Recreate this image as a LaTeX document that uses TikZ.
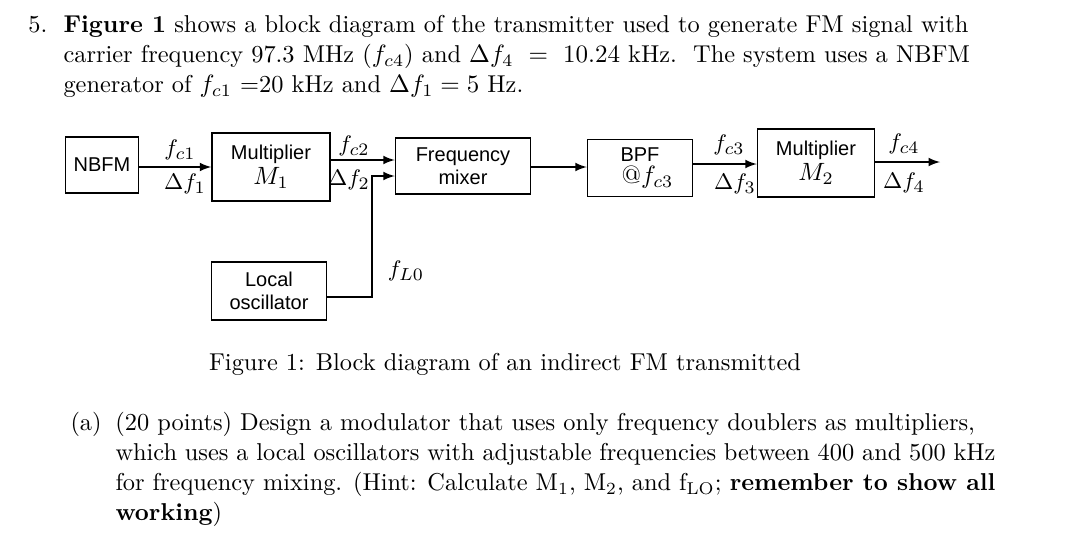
\documentclass[tikz,border=0pt]{standalone}
\usepackage{fontspec}
\newfontfamily\diagsans{Liberation Sans}
\usetikzlibrary{arrows, positioning}
\begin{document}
\begin{tikzpicture}[
    x=0.4pt, y=-0.4pt,
    block/.style={rectangle, draw, line width=0.6pt, inner sep=0pt, font=\diagsans\fontsize{8}{9}\selectfont, align=center},
    lbl/.style={inner sep=0pt, font=\fontsize{9.5}{10}\selectfont},
    arrow/.style={->, >=latex, line width=0.6pt},
    para/.style={anchor=north west, inner sep=0pt, align=justify, font=\fontsize{9.75}{12}\selectfont}
]
    \useasboundingbox[fill=white] (0,0) rectangle (1086,554);

    % Question text
    \node[para, text width=386pt] (q) at (28,15) {\hbox to 14pt{5.\hfil}\textbf{Figure 1} shows a block diagram of the transmitter used to generate FM signal with\\
    \hspace*{14pt}carrier frequency 97.3 MHz ($f_{c4}$) and $\Delta f_4\ =\ 10.24$ kHz.\ \ The system uses a NBFM\\
    \hspace*{14pt}generator of $f_{c1}$ =20 kHz and $\Delta f_1 = 5$ Hz.\hfill\mbox{}};

    % Blocks
    \node[block, minimum width=73*0.4pt, minimum height=56*0.4pt] (nbfm) at (102,165) {NBFM};
    \node[block, minimum width=118*0.4pt, minimum height=68*0.4pt] (mult1) at (271,167) {Multiplier\\[1pt] {\rmfamily\fontsize{10}{10}\selectfont$M_1$}};
    \node[block, minimum width=135*0.4pt, minimum height=56*0.4pt] (mixer) at (463,166) {Frequency\\ mixer};
    \node[block, minimum width=105*0.4pt, minimum height=57*0.4pt] (bpf) at (640,168) {BPF\\ \hspace*{6pt}{\rmfamily\fontsize{10}{10}\selectfont$@f_{c3}$}};
    \node[block, minimum width=117*0.4pt, minimum height=68*0.4pt] (mult2) at (816,163) {Multiplier\\[1pt] {\rmfamily\fontsize{10}{10}\selectfont$M_2$}};
    \node[block, minimum width=115*0.4pt, minimum height=58*0.4pt] (lo) at (269,291) {Local\\ oscillator};
    \coordinate (out) at (940,162);
    \coordinate (bend) at (372,297);

    % Connectors
    \draw[arrow] (nbfm.east |- 0,167) -- (mult1.west |- 0,167);
    \draw[arrow] (mult1.east |- 0,160) -- (mixer.west |- 0,160);
    \draw[arrow] (lo.east |- bend) -- (bend) -- (bend |- 0,176) -- (mixer.west |- 0,176);
    \draw[arrow] (mixer.east |- 0,167) -- (bpf.west |- 0,167);
    \draw[arrow] (bpf.east |- 0,164) -- (mult2.west |- 0,164);
    \draw[arrow] (mult2.east |- 0,162) -- (out);

    % Labels
    \node[lbl] (fc1) at (180,150) {$f_{c1}$};
    \node[lbl] (df1) at (185,184) {$\Delta f_1$};
    \node[lbl] (fc2) at (354,146) {$f_{c2}$};
    \node[lbl] (df2) at (349,180) {$\Delta f_2$};
    \node[lbl] (flo) at (406,271) {$f_{L0}$};
    \node[lbl] (fc3) at (729,145) {$f_{c3}$};
    \node[lbl] (df3) at (735,184) {$\Delta f_3$};
    \node[lbl] (fc4) at (904,144) {$f_{c4}$};
    \node[lbl] (df4) at (904,183) {$\Delta f_4$};

    % Caption
    \node[inner sep=0pt, font=\fontsize{9.75}{12}\selectfont] (cap) at (505,364) {Figure 1: Block diagram of an indirect FM transmitted};

    % Part (a)
    \node[para, text width=370pt] (pa) at (70,412) {\hbox to 18pt{(a)\hfil}(20 points) Design a modulator that uses only frequency doublers as multipliers,\\
    \hspace*{18pt}which uses a local oscillators with adjustable frequencies between 400 and 500 kHz\\
    \hspace*{18pt}for frequency mixing. (Hint: Calculate M\textsubscript{1}, M\textsubscript{2}, and f\textsubscript{LO}; \textbf{remember to show all}\\
    \hspace*{18pt}\textbf{working})\hfill\mbox{}};
\end{tikzpicture}
\end{document}
